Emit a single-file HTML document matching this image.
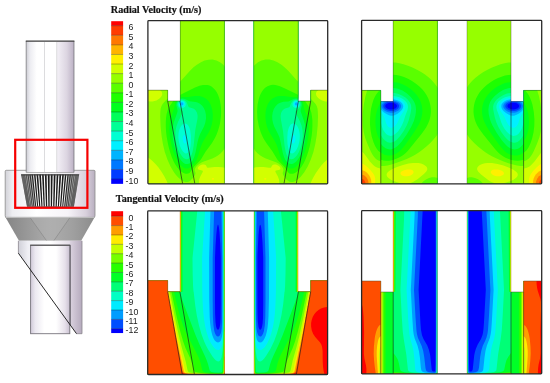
<!DOCTYPE html>
<html><head><meta charset="utf-8"><title>Velocity contours</title>
<style>
html,body{margin:0;padding:0;background:#fff;overflow:hidden}
svg{display:block}
.ttl{font-family:"Liberation Serif",serif;font-weight:bold;font-size:10.2px;fill:#111;stroke:#111;stroke-width:0.2px}
.lab{font-family:"Liberation Sans",sans-serif;font-size:8.8px;fill:#222}
</style></head><body>
<svg width="550" height="383" viewBox="0 0 550 383">
<defs>
<clipPath id="c1L"><path d="M148,90.2 167.7,90.2 167.7,101 180.3,101 180.3,20.6 224.4,20.6 224.4,183.6 148,183.6Z"/></clipPath>
<clipPath id="c1R"><path d="M327.7,90.2 310.7,90.2 310.7,101 298.2,101 298.2,20.6 253.8,20.6 253.8,183.6 327.7,183.6Z"/></clipPath>
<clipPath id="c2L"><path d="M361.6,90.4 380.8,90.4 380.8,101.6 393.2,101.6 393.2,20.3 437.4,20.3 437.4,183.6 361.6,183.6Z"/></clipPath>
<clipPath id="c2R"><path d="M541.7,90.4 523.6,90.4 523.6,101.6 511,101.6 511,20.3 467,20.3 467,183.6 541.7,183.6Z"/></clipPath>
<clipPath id="c3L"><path d="M147.7,280.6 167.7,280.6 167.7,291.7 180.1,291.7 180.1,210.9 224.4,210.9 224.4,374.2 147.7,374.2Z"/></clipPath>
<clipPath id="c3R"><path d="M327.6,280.6 310.7,280.6 310.7,291.7 298,291.7 298,210.9 254,210.9 254,374.2 327.6,374.2Z"/></clipPath>
<clipPath id="c4L"><path d="M361.6,281 380.8,281 380.8,292 393.2,292 393.2,210.6 437.2,210.6 437.2,373.8 361.6,373.8Z"/></clipPath>
<clipPath id="c4R"><path d="M541.7,281 523.6,281 523.6,292 511,292 511,210.6 467,210.6 467,373.8 541.7,373.8Z"/></clipPath>
</defs>
<rect width="550" height="383" fill="#fff"/>
<defs>
<linearGradient id="gTube" x1="0" x2="1" y1="0" y2="0">
<stop offset="0" stop-color="#cdcdd4"/><stop offset="0.08" stop-color="#ececf1"/><stop offset="0.22" stop-color="#ffffff"/>
<stop offset="0.635" stop-color="#ffffff"/><stop offset="0.645" stop-color="#f3f0f6"/><stop offset="0.85" stop-color="#dcd5e1"/><stop offset="0.97" stop-color="#c2b8ca"/><stop offset="1" stop-color="#b2a8ba"/>
</linearGradient>
<linearGradient id="gHouse" x1="0" x2="1" y1="0" y2="0">
<stop offset="0" stop-color="#d2d2d8"/><stop offset="0.08" stop-color="#eeeef2"/><stop offset="0.35" stop-color="#ffffff"/>
<stop offset="0.70" stop-color="#f6f3f8"/><stop offset="0.90" stop-color="#d8d0dc"/><stop offset="1" stop-color="#b9afc0"/>
</linearGradient>
<linearGradient id="gCone" x1="0" x2="1" y1="0" y2="0">
<stop offset="0" stop-color="#858585"/><stop offset="0.3" stop-color="#9d9d9d"/><stop offset="0.5" stop-color="#adadad"/><stop offset="0.75" stop-color="#a0a0a0"/><stop offset="1" stop-color="#8c8c8c"/>
</linearGradient>
<linearGradient id="gBox" x1="0" x2="1" y1="0" y2="0">
<stop offset="0" stop-color="#d0d0d8"/><stop offset="0.15" stop-color="#efeff4"/><stop offset="0.5" stop-color="#ffffff"/>
<stop offset="0.80" stop-color="#e4dee8"/><stop offset="0.82" stop-color="#d9d1de"/><stop offset="1" stop-color="#b5aabd"/>
</linearGradient>
<linearGradient id="gIn" x1="0" x2="1" y1="0" y2="0">
<stop offset="0" stop-color="#cfc9d8"/><stop offset="0.12" stop-color="#ece9f1"/><stop offset="0.35" stop-color="#ffffff"/>
<stop offset="0.65" stop-color="#ffffff"/><stop offset="0.88" stop-color="#e6e0ea"/><stop offset="1" stop-color="#c8bfd0"/>
</linearGradient>
<linearGradient id="gVane" x1="0" x2="1" y1="0" y2="0"><stop offset="0" stop-color="#5c5c5c"/><stop offset="0.25" stop-color="#1c1c1c"/><stop offset="0.75" stop-color="#1c1c1c"/><stop offset="1" stop-color="#5c5c5c"/></linearGradient>
<clipPath id="cVane"><path d="M21,174.3 L79.2,174.3 L73.9,206.8 L27,206.8Z"/></clipPath>
</defs>
<path d="M5.2,171.3 Q5.2,170.3 6.2,170.3 L94,170.3 Q95,170.3 95,171.3 L95,215.6 L94.5,217.4 L5.6,217.4 L5.2,215.6Z" fill="url(#gHouse)" stroke="#8a8a8a" stroke-width="0.8"/>
<g clip-path="url(#cVane)"><rect x="20" y="174" width="60" height="33" fill="url(#gVane)"/>
<path d="M21.0,174.6 L26.6,206.6" stroke="#8c8c8c" stroke-width="0.10"/>
<path d="M21.3,174.6 L26.9,206.6" stroke="#8c8c8c" stroke-width="0.21"/>
<path d="M21.9,174.6 L27.4,206.6" stroke="#8c8c8c" stroke-width="0.32"/>
<path d="M22.8,174.6 L28.1,206.6" stroke="#8c8c8c" stroke-width="0.43"/>
<path d="M24.0,174.6 L29.0,206.6" stroke="#8c8c8c" stroke-width="0.53"/>
<path d="M25.4,174.6 L30.2,206.6" stroke="#c4c4c4" stroke-width="0.62"/>
<path d="M27.1,174.6 L31.5,206.6" stroke="#c4c4c4" stroke-width="0.71"/>
<path d="M29.0,174.6 L33.1,206.6" stroke="#c4c4c4" stroke-width="0.79"/>
<path d="M31.2,174.6 L34.8,206.6" stroke="#c4c4c4" stroke-width="0.87"/>
<path d="M33.5,174.6 L36.7,206.6" stroke="#ffffff" stroke-width="0.94"/>
<path d="M36.0,174.6 L38.7,206.6" stroke="#ffffff" stroke-width="0.99"/>
<path d="M38.7,174.6 L40.9,206.6" stroke="#ffffff" stroke-width="1.04"/>
<path d="M41.5,174.6 L43.1,206.6" stroke="#ffffff" stroke-width="1.08"/>
<path d="M44.3,174.6 L45.4,206.6" stroke="#ffffff" stroke-width="1.11"/>
<path d="M47.2,174.6 L47.8,206.6" stroke="#ffffff" stroke-width="1.12"/>
<path d="M50.2,174.6 L50.2,206.6" stroke="#ffffff" stroke-width="1.13"/>
<path d="M53.2,174.6 L52.6,206.6" stroke="#ffffff" stroke-width="1.12"/>
<path d="M56.1,174.6 L55.0,206.6" stroke="#ffffff" stroke-width="1.11"/>
<path d="M58.9,174.6 L57.3,206.6" stroke="#ffffff" stroke-width="1.08"/>
<path d="M61.7,174.6 L59.5,206.6" stroke="#ffffff" stroke-width="1.04"/>
<path d="M64.4,174.6 L61.7,206.6" stroke="#ffffff" stroke-width="0.99"/>
<path d="M66.9,174.6 L63.7,206.6" stroke="#ffffff" stroke-width="0.94"/>
<path d="M69.2,174.6 L65.6,206.6" stroke="#c4c4c4" stroke-width="0.87"/>
<path d="M71.4,174.6 L67.3,206.6" stroke="#c4c4c4" stroke-width="0.79"/>
<path d="M73.3,174.6 L68.9,206.6" stroke="#c4c4c4" stroke-width="0.71"/>
<path d="M75.0,174.6 L70.2,206.6" stroke="#c4c4c4" stroke-width="0.62"/>
<path d="M76.4,174.6 L71.4,206.6" stroke="#8c8c8c" stroke-width="0.53"/>
<path d="M77.6,174.6 L72.3,206.6" stroke="#8c8c8c" stroke-width="0.43"/>
<path d="M78.5,174.6 L73.0,206.6" stroke="#8c8c8c" stroke-width="0.32"/>
<path d="M79.1,174.6 L73.5,206.6" stroke="#8c8c8c" stroke-width="0.21"/>
<path d="M79.4,174.6 L73.8,206.6" stroke="#8c8c8c" stroke-width="0.10"/>
<rect x="20" y="174.2" width="60" height="1.4" fill="#444" fill-opacity="0.8"/>
</g>
<rect x="26.2" y="41.1" width="47.8" height="131.3" fill="url(#gTube)"/>
<path d="M44.5,42 V172 M56.7,42 V172" stroke="#c4c4c8" stroke-width="0.6" fill="none"/>
<path d="M26.2,172.4 V41.1 M74,41.1 V172.4" stroke="#7c7c80" stroke-width="0.8" fill="none"/>
<path d="M25.8,41.1 H74.4" stroke="#3c3c3c" stroke-width="1.1" fill="none"/>
<path d="M26.2,172.6 H74" stroke="#8a8a8a" stroke-width="0.7" fill="none"/>
<path d="M5.6,217.4 L94.5,217.4 L81.2,240.8 L19,240.8Z" fill="url(#gCone)"/>
<path d="M30,217.4 L46.6,240.8 L53.8,240.8 L70,217.4Z" fill="#b0b0b0" fill-opacity="0.55"/>
<path d="M30,217.4 L46.6,240.8 M70,217.4 L53.8,240.8" stroke="#7d7d7d" stroke-width="0.5" fill="none"/>
<path d="M5.6,217.4 H94.5" stroke="#c9c9c9" stroke-width="0.8"/>
<path d="M18.4,240.8 L82,240.8 L82,333.7 L76.5,333.7 L18.4,253.2Z" fill="url(#gBox)"/>
<rect x="30.6" y="245.2" width="39.2" height="88.5" fill="url(#gIn)" stroke="#77747c" stroke-width="0.9"/>
<path d="M30.2,245.2 H70.2" stroke="#4a4a4a" stroke-width="1"/>
<path d="M70.3,245.2 V325" stroke="#55525a" stroke-width="0.8"/>
<path d="M18.4,240.8 V253.2 M82,240.8 V333.7 H76.5" stroke="#8a868e" stroke-width="0.8" fill="none"/>
<path d="M18.4,253.2 L76.5,333.7" stroke="#1c1c1c" stroke-width="0.95"/>
<rect x="15.2" y="139.8" width="72.2" height="68" fill="none" stroke="#f60000" stroke-width="2.2"/>
<text x="110.8" y="12.6" class="ttl">Radial Velocity (m/s)</text>
<text x="115.8" y="202.2" class="ttl">Tangential Velocity (m/s)</text>
<rect x="111.2" y="21.2" width="11.9" height="4.55" fill="#ff0000"/>
<rect x="111.2" y="25.7" width="11.9" height="9.635" fill="#ff3c00"/>
<rect x="111.2" y="35.285" width="11.9" height="9.635" fill="#ff7800"/>
<rect x="111.2" y="44.87" width="11.9" height="9.635" fill="#ffb400"/>
<rect x="111.2" y="54.455" width="11.9" height="9.635" fill="#fff000"/>
<rect x="111.2" y="64.04" width="11.9" height="9.635" fill="#d2ff00"/>
<rect x="111.2" y="73.625" width="11.9" height="9.635" fill="#96ff00"/>
<rect x="111.2" y="83.21" width="11.9" height="9.635" fill="#5aff00"/>
<rect x="111.2" y="92.795" width="11.9" height="9.635" fill="#1eff00"/>
<rect x="111.2" y="102.38" width="11.9" height="9.635" fill="#00ff1e"/>
<rect x="111.2" y="111.965" width="11.9" height="9.635" fill="#00ff5a"/>
<rect x="111.2" y="121.55" width="11.9" height="9.635" fill="#00ff96"/>
<rect x="111.2" y="131.135" width="11.9" height="9.635" fill="#00ffd2"/>
<rect x="111.2" y="140.72" width="11.9" height="9.635" fill="#00f0ff"/>
<rect x="111.2" y="150.305" width="11.9" height="9.635" fill="#00b4ff"/>
<rect x="111.2" y="159.89" width="11.9" height="9.635" fill="#0078ff"/>
<rect x="111.2" y="169.475" width="11.9" height="9.635" fill="#003cff"/>
<rect x="111.2" y="179.06" width="11.9" height="4.79" fill="#0000ff"/>
<path d="M111.2,25.7 H123.1" stroke="#000" stroke-opacity="0.5" stroke-width="0.6"/>
<path d="M111.2,35.285 H123.1" stroke="#000" stroke-opacity="0.5" stroke-width="0.6"/>
<path d="M111.2,44.87 H123.1" stroke="#000" stroke-opacity="0.5" stroke-width="0.6"/>
<path d="M111.2,54.455 H123.1" stroke="#000" stroke-opacity="0.5" stroke-width="0.6"/>
<path d="M111.2,64.04 H123.1" stroke="#000" stroke-opacity="0.5" stroke-width="0.6"/>
<path d="M111.2,73.625 H123.1" stroke="#000" stroke-opacity="0.5" stroke-width="0.6"/>
<path d="M111.2,83.21 H123.1" stroke="#000" stroke-opacity="0.5" stroke-width="0.6"/>
<path d="M111.2,92.795 H123.1" stroke="#000" stroke-opacity="0.5" stroke-width="0.6"/>
<path d="M111.2,102.38 H123.1" stroke="#000" stroke-opacity="0.5" stroke-width="0.6"/>
<path d="M111.2,111.965 H123.1" stroke="#000" stroke-opacity="0.5" stroke-width="0.6"/>
<path d="M111.2,121.55 H123.1" stroke="#000" stroke-opacity="0.5" stroke-width="0.6"/>
<path d="M111.2,131.135 H123.1" stroke="#000" stroke-opacity="0.5" stroke-width="0.6"/>
<path d="M111.2,140.72 H123.1" stroke="#000" stroke-opacity="0.5" stroke-width="0.6"/>
<path d="M111.2,150.305 H123.1" stroke="#000" stroke-opacity="0.5" stroke-width="0.6"/>
<path d="M111.2,159.89 H123.1" stroke="#000" stroke-opacity="0.5" stroke-width="0.6"/>
<path d="M111.2,169.475 H123.1" stroke="#000" stroke-opacity="0.5" stroke-width="0.6"/>
<path d="M111.2,179.06 H123.1" stroke="#000" stroke-opacity="0.5" stroke-width="0.6"/>
<text x="128.6" y="30.2" class="lab">6</text>
<text x="128.6" y="39.785" class="lab">5</text>
<text x="128.6" y="49.37" class="lab">4</text>
<text x="128.6" y="58.955" class="lab">3</text>
<text x="128.6" y="68.54" class="lab">2</text>
<text x="128.6" y="78.125" class="lab">1</text>
<text x="128.6" y="87.71" class="lab">0</text>
<text x="125.6" y="97.295" class="lab">-1</text>
<text x="125.6" y="106.88" class="lab">-2</text>
<text x="125.6" y="116.465" class="lab">-3</text>
<text x="125.6" y="126.05" class="lab">-4</text>
<text x="125.6" y="135.635" class="lab">-5</text>
<text x="125.6" y="145.22" class="lab">-6</text>
<text x="125.6" y="154.805" class="lab">-7</text>
<text x="125.6" y="164.39" class="lab">-8</text>
<text x="125.6" y="173.975" class="lab">-9</text>
<text x="125.6" y="183.56" class="lab">-10</text>
<rect x="111.2" y="211.2" width="11.9" height="5.05" fill="#ff0000"/>
<rect x="111.2" y="216.2" width="11.9" height="9.43" fill="#ff4e00"/>
<rect x="111.2" y="225.58" width="11.9" height="9.43" fill="#ff9d00"/>
<rect x="111.2" y="234.96" width="11.9" height="9.43" fill="#ffeb00"/>
<rect x="111.2" y="244.34" width="11.9" height="9.43" fill="#c4ff00"/>
<rect x="111.2" y="253.72" width="11.9" height="9.43" fill="#76ff00"/>
<rect x="111.2" y="263.1" width="11.9" height="9.43" fill="#27ff00"/>
<rect x="111.2" y="272.48" width="11.9" height="9.43" fill="#00ff27"/>
<rect x="111.2" y="281.86" width="11.9" height="9.43" fill="#00ff76"/>
<rect x="111.2" y="291.24" width="11.9" height="9.43" fill="#00ffc4"/>
<rect x="111.2" y="300.62" width="11.9" height="9.43" fill="#00ebff"/>
<rect x="111.2" y="310" width="11.9" height="9.43" fill="#009dff"/>
<rect x="111.2" y="319.38" width="11.9" height="9.43" fill="#004eff"/>
<rect x="111.2" y="328.76" width="11.9" height="4.29" fill="#0000ff"/>
<path d="M111.2,216.2 H123.1" stroke="#000" stroke-opacity="0.5" stroke-width="0.6"/>
<path d="M111.2,225.58 H123.1" stroke="#000" stroke-opacity="0.5" stroke-width="0.6"/>
<path d="M111.2,234.96 H123.1" stroke="#000" stroke-opacity="0.5" stroke-width="0.6"/>
<path d="M111.2,244.34 H123.1" stroke="#000" stroke-opacity="0.5" stroke-width="0.6"/>
<path d="M111.2,253.72 H123.1" stroke="#000" stroke-opacity="0.5" stroke-width="0.6"/>
<path d="M111.2,263.1 H123.1" stroke="#000" stroke-opacity="0.5" stroke-width="0.6"/>
<path d="M111.2,272.48 H123.1" stroke="#000" stroke-opacity="0.5" stroke-width="0.6"/>
<path d="M111.2,281.86 H123.1" stroke="#000" stroke-opacity="0.5" stroke-width="0.6"/>
<path d="M111.2,291.24 H123.1" stroke="#000" stroke-opacity="0.5" stroke-width="0.6"/>
<path d="M111.2,300.62 H123.1" stroke="#000" stroke-opacity="0.5" stroke-width="0.6"/>
<path d="M111.2,310 H123.1" stroke="#000" stroke-opacity="0.5" stroke-width="0.6"/>
<path d="M111.2,319.38 H123.1" stroke="#000" stroke-opacity="0.5" stroke-width="0.6"/>
<path d="M111.2,328.76 H123.1" stroke="#000" stroke-opacity="0.5" stroke-width="0.6"/>
<text x="128.6" y="220.7" class="lab">0</text>
<text x="125.6" y="230.08" class="lab">-1</text>
<text x="125.6" y="239.46" class="lab">-2</text>
<text x="125.6" y="248.84" class="lab">-3</text>
<text x="125.6" y="258.22" class="lab">-4</text>
<text x="125.6" y="267.6" class="lab">-5</text>
<text x="125.6" y="276.98" class="lab">-6</text>
<text x="125.6" y="286.36" class="lab">-7</text>
<text x="125.6" y="295.74" class="lab">-8</text>
<text x="125.6" y="305.12" class="lab">-9</text>
<text x="125.6" y="314.5" class="lab">-10</text>
<text x="125.6" y="323.88" class="lab">-11</text>
<text x="125.6" y="333.26" class="lab">-12</text>
<g clip-path="url(#c1L)"><rect x="146" y="19" width="80" height="166" fill="#00b4ff"/>
<path fill="#00f0ff" fill-rule="evenodd" d="M226,19l0,166 -80,0 0,-166zM181,102.5l-0.5,0.5 -0.2,0.5 0.1,1 0.3,0.5 0.8,0.4 1,-0.1 0.8,-0.8 0,-1 -0.2,-0.5 -0.5,-0.5 -0.6,-0.2z"/>
<path fill="#00ffd2" fill-rule="evenodd" d="M226,19l0,166 -80,0 0,-166zM180.8,101.5l-0.8,0.5 -0.6,1 -0.2,1 0.2,1 0.6,0.8 1,0.7 1,0.2 1,-0.2 0.8,-0.5 0.6,-1 0.2,-1 -0.2,-1 -0.7,-1 -0.8,-0.5 -0.9,-0.2zM184.3,135l-0.8,0.5 -0.4,1 -0.3,1.5 0,1.5 0.7,2.7 0.5,0.8 0.5,0.5 0.5,0.2 0.5,-0.2 0.6,-1 0.3,-1.5 0,-2 -0.4,-2 -0.5,-1.2 -0.5,-0.6z"/>
<path fill="#00ff96" fill-rule="evenodd" d="M226,19l0,166 -80,0 0,-166zM181.1,100.5l-1.1,0.5 -1.1,1 -0.5,1.5 0.1,1.5 0.7,1.5 1.3,1 1.5,0.5 1.5,-0.2 1.3,-0.8 0.7,-1 0.2,-1 0,-1.5 -0.7,-1.5 -1,-0.9 -1.5,-0.6zM184.4,123.5l-1.4,0.6 -1,0.8 -1.2,1.6 -1,2 -0.8,2.3 -0.4,2.2 -0.2,2.5 0,2.5 0.4,3 0.5,2.5 0.7,2.5 1.1,2.5 1.1,2 1.3,1.6 1.5,1.1 1,0.2 1.4,-0.4 1.1,-1 0.8,-1.5 0.7,-2 0.5,-2.5 0.3,-3 0.1,-7 -0.7,-5.5 -0.7,-2.4 -0.7,-1.6 -0.8,-1.3 -1,-1 -1.5,-0.7z"/>
<path fill="#00ff5a" fill-rule="evenodd" d="M226,19l0,166 -80,0 0,-166zM180,100l-1.3,1 -1,1.5 -0.3,1.5 0.2,1.5 1,2 0.9,1.1 3,2.4 0.2,1 -0.4,1.5 -4.3,8.5 -1.7,5 -0.5,2.5 -0.4,3 0,3 0.2,3.5 0.7,4 0.9,3.5 1.3,3.7 1.5,3.1 1.8,2.7 1.7,1.9 2,1.1 1.5,0.2 1,-0.2 0.9,-0.5 1.5,-1.5 1.3,-2.5 0.9,-3 1,-5.5 1.7,-16 2.1,-11 0.2,-2 -0.1,-2 -0.6,-2.5 -1.4,-2.3 -1,-0.9 -1.3,-0.8 -4.2,-1.3 -0.6,-0.7 -1.6,-4 -1.2,-1.5 -1.1,-0.8 -1.5,-0.5 -1.5,-0.1z"/>
<path fill="#00ff1e" fill-rule="evenodd" d="M226,19l0,166 -80,0 0,-166zM180,99l-1.5,0.9 -1,1.1 -0.6,1 -0.4,1.5 -0.1,2 1,4 0.2,1.5 -0.5,2 -3,8.5 -1.1,4.4 -0.5,5.6 0.3,6 0.7,5 1.3,5 1.7,4.9 2,4.2 2.2,3.4 2.3,2.4 1.5,1 1,0.5 2,0.2 2,-0.6 1.8,-1.5 1.7,-2.3 1.2,-2.7 1.3,-4.5 2,-10.3 1.1,-4.2 1.5,-4 3.9,-7.5 1.2,-3.5 0.8,-4.5 -0.1,-4 -0.8,-3.5 -1.3,-3 -1.8,-2.5 -2.5,-2 -2,-1 -2,-0.6 -6,-0.6 -4,-2 -1.5,-0.5 -2,-0.2z"/>
<path fill="#1eff00" fill-rule="evenodd" d="M226,19l0,166 -80,0 0,-166zM194.9,96l-6.9,1.1 -4.5,-0.1 -2,0.2 -2.5,0.9 -2,1.6 -1.3,1.8 -0.6,1.5 -1,5.5 -3.1,8.6 -0.8,3.4 -0.5,3 -0.3,6.5 0.6,7.5 1.5,8 2.2,7.5 2.8,6.3 1.5,2.6 1.5,2.1 1.8,2 1.7,1.3 1.5,0.9 1.5,0.4 2,-0.1 1,-0.4 1.5,-1 3.5,-3.4 2.3,-3.2 1.6,-4 2.6,-8.7 1.5,-4.1 2,-3.7 4.4,-7 2,-4 1.4,-4.5 0.8,-4.5 0.2,-5.5 -0.6,-5 -1.4,-4.5 -2,-3.5 -1.3,-1.5 -1.5,-1.3 -3,-1.7 -3.5,-0.9 -2,-0.2z"/>
<path fill="#5aff00" fill-rule="evenodd" d="M226,19l0,166 -80,0 0,-166zM203,85l-3.5,0.8 -4.5,1.8 -15,7.3 -3,1.8 -2.7,2.8 -4.8,7 -1.8,3.5 -1.1,4 -0.5,3.5 -0.3,4.5 0,5 0.3,5 0.6,5 1,5.5 1.1,5 1.4,5 1.5,4.5 1.5,3.5 1.8,3.5 2,3.1 2,2.5 2,1.9 2.5,1.6 2,0.6 1.5,0.1 1,-0.2 1,-0.4 1,-0.7 4.2,-6 5.4,-5.5 1.6,-2 4.3,-7.2 6.5,-8.9 2.9,-4.9 1.7,-3.5 1.3,-3.5 1.2,-4 0.9,-3.5 1,-7.5 0.1,-4 -0.1,-4 -0.4,-3.5 -0.6,-3.5 -0.8,-3 -1.2,-3.2 -1.4,-2.8 -1.4,-2 -1.7,-1.8 -2,-1.6 -2,-1 -2,-0.5 -2,-0.2z"/>
<path fill="#96ff00" fill-rule="evenodd" d="M226,19l0,48.8 -3,-3.3 -3,-2.3 -3.5,-1.7 -2,-0.6 -2,-0.3 -4,0.1 -4,0.9 -4,1.8 -4,2.5 -3,2.4 -3.5,3.4 -8.3,9.3 -5.2,5.6 -2,2.6 -2.9,5.3 -1.6,2.5 -1.7,2 -4,4 -1.7,2 -1.1,2 -0.8,2.5 -0.4,3.5 -0.1,4.5 0.4,10 1,9.5 1.3,8 1.9,8 2.8,8 3.2,7 3.3,5.5 1.9,2.5 2,2.3 3.5,3 1.5,0.9 1.5,0.6 1.5,0.3 1.5,-0.1 1,-0.3 1.5,-0.8 2.5,-2.3 1.5,-1.9 1,-1.7 0.4,-1 0.1,-1 -0.7,-2.5 0.1,-1.5 0.7,-1.5 1.4,-1.7 2.5,-2 2.5,-1.5 2.5,-1 7.9,-2.8 3,-1.5 2.5,-1.5 2.6,-2 1.9,-2 1.8,-2.5 1.8,-3.3 0,39.3 -80,0 0,-166z"/>
<path fill="#d2ff00" fill-rule="evenodd" d="M149,87.5l3,-0.1 3,0.4 3,1 2,1.2 1.5,1.6 0.5,0.9 0.2,1 -0.1,1.5 -1.1,2 -1.5,1.5 -1.5,1.1 -1.5,0.8 -2,0.6 -2,0.4 -2,0.1 -4.5,-0.4 0,-13.2zM149.5,158.4l3,2.5 3,3 3,3.6 3,4.3 2.9,4.7 2.3,4.5 1.6,4 -22.3,0 0,-28.8zM202.5,164.5l1.5,-0.1 1.5,0.5 0.6,0.6 0.9,1.9 1,0.4 6.5,-0.8 3.5,-0.1 4,0.3 4,0.9 0,16.9 -26.6,0 -0.5,-2.5 0.3,-3 1.1,-3 2.4,-4.5 0.2,-1 -0.7,-0.5 -2.2,-0.4 -1.5,-0.5 -0.6,-0.6 -0.1,-1 0.5,-1 0.9,-1 1.7,-1z"/>
<path fill="#fff000" fill-rule="evenodd" d="M212.5,178.3l1,-0.1 0.5,0.3 0.1,0.5 -0.6,0.5 -1.2,0 -0.4,-0.5 0.2,-0.5z"/></g>
<g clip-path="url(#c1R)"><rect x="252" y="19" width="78" height="166" fill="#00b4ff"/>
<path fill="#00f0ff" fill-rule="evenodd" d="M330,19l0,166 -78,0 0,-166zM295.7,102.5l-0.6,0.5 -0.2,0.5 0,1 0.4,0.5 0.7,0.4 1,-0.1 0.5,-0.3 0.3,-0.5 0.1,-1 -0.2,-0.5 -0.7,-0.6 -0.5,-0.1z"/>
<path fill="#00ffd2" fill-rule="evenodd" d="M330,19l0,166 -78,0 0,-166zM295.3,101.5l-0.8,0.5 -0.7,1 -0.2,1 0.2,1 0.6,1 0.6,0.4 1,0.3 1,-0.1 1,-0.6 0.8,-1 0.2,-1 -0.2,-1 -0.6,-1 -0.7,-0.5 -1,-0.2zM293.8,135l-0.8,0.4 -0.5,0.8 -0.5,1.5 -0.2,1.3 0.2,3.1 0.5,1.1 0.5,0.4 0.7,-0.1 0.8,-0.9 0.5,-1.3 0.4,-1.8 -0.1,-2 -0.3,-1.4 -0.5,-0.8z"/>
<path fill="#00ff96" fill-rule="evenodd" d="M330,19l0,166 -78,0 0,-166zM295.6,100.5l-1.3,0.5 -1.1,1 -0.5,1 -0.3,1.5 0.3,1.5 0.8,1.1 1,0.6 1.5,0.3 1.5,-0.4 1,-0.6 1.1,-1.5 0.3,-1.5 -0.3,-1.5 -1.1,-1.3 -1.5,-0.7zM292.7,123.5l-1.2,0.5 -1,0.8 -0.8,1.2 -0.8,1.5 -0.6,2 -0.6,2.5 -0.4,5.5 0.2,6.5 0.9,5 0.6,1.7 1,1.6 1,0.9 1,0.2 1,-0.1 1.5,-1 1.5,-1.8 1.1,-2 1.1,-2.5 0.8,-3 0.6,-3 0.2,-3 0,-2.5 -0.4,-2.5 -0.6,-2.5 -0.8,-2 -1,-1.7 -1.5,-1.5 -1.5,-0.8z"/>
<path fill="#00ff5a" fill-rule="evenodd" d="M330,19l0,166 -78,0 0,-166zM294.2,100l-1.2,0.7 -1.2,1.3 -0.9,1.5 -0.9,2.6 -0.5,0.9 -1,0.5 -3.5,1 -1.5,0.9 -1,1 -0.7,1.1 -0.7,1.5 -0.5,3 0.3,3.5 2.1,11.5 1.6,15 1,5.5 0.9,3 1.5,2.7 1.5,1.4 1,0.5 1,0.1 1,-0.1 1,-0.4 2,-1.6 1.7,-2.1 1.7,-3 1.4,-3.5 1.2,-4 0.9,-4.5 0.4,-4 -0.2,-5.5 -1.1,-5 -1.5,-3.9 -3.9,-7.6 -0.6,-2 0.2,-1 2.8,-2.2 1.5,-1.9 0.7,-1.9 -0.1,-2 -0.4,-1 -0.7,-1 -1.5,-1.1 -2,-0.3z"/>
<path fill="#00ff1e" fill-rule="evenodd" d="M330,19l0,166 -78,0 0,-166zM293.5,99l-3.5,1.8 -1.5,0.6 -5,0.4 -2.5,0.6 -2,0.9 -1.5,1 -2.1,2.2 -1.6,2.5 -1.1,3.5 -0.5,3.5 0.1,3.5 0.7,3.6 1.2,3.4 3.8,7.4 1.5,3.7 1.1,4.4 2.1,10.5 1.3,4.6 1.4,2.9 1.6,2.1 2,1.5 2,0.5 1,-0.1 1.5,-0.5 2.5,-1.8 2.5,-3.1 2.1,-3.6 1.9,-4.7 1.6,-5.3 1.1,-5.5 0.5,-5.5 -0.1,-5 -0.7,-4.5 -1.1,-4 -3.1,-9 0,-1.5 1.1,-4.5 0,-1.5 -0.3,-1.5 -1.2,-2 -1.8,-1.4 -1,-0.4 -1.5,-0.2z"/>
<path fill="#1eff00" fill-rule="evenodd" d="M330,19l0,166 -78,0 0,-166zM279.5,96l-2,0.3 -2,0.6 -3,1.5 -2.5,2.4 -2,3 -1.5,3.7 -0.9,4.5 -0.2,5 0.5,5 1,4.5 1.8,4.5 2,3.5 3.8,6 2,3.9 1.1,3.1 2.7,9 0.9,2.5 1,2 2.3,3 3.5,3.4 2,1 1,0.2 1.5,0 1.6,-0.6 1.9,-1.2 1.8,-1.8 1.6,-2 1.6,-2.4 1.5,-2.9 2.7,-6.7 2,-7.5 1.3,-8 0.3,-7.5 -0.2,-3.5 -0.4,-3 -1.4,-5.5 -2.7,-7.5 -0.8,-4.5 -0.4,-1.5 -1,-2 -1.4,-1.5 -2,-1.3 -2,-0.5 -6,-0.1 -6.5,-1z"/>
<path fill="#5aff00" fill-rule="evenodd" d="M330,19l0,166 -78,0 0,-166zM271.1,85l-1.6,0.4 -2,0.8 -2,1.3 -1.6,1.5 -1.6,2 -1.3,2.2 -1.1,2.3 -1,3 -1.3,6 -0.5,7 0.4,7.5 1.3,7 2,6.5 1.5,3.5 1.5,3 2.7,4.3 6,8.2 4.8,8 1.8,2 4.9,5 1.6,2 1.9,3.1 1,1.1 1,0.7 1,0.3 1,0.1 1.5,-0.1 2,-0.8 2.5,-1.7 2,-1.9 2,-2.6 2,-3.2 1.7,-3.5 1.6,-4 1.5,-4.5 1.4,-5 1.1,-5.5 0.9,-5.5 0.5,-5 0.2,-5 0,-5 -0.5,-4.5 -0.6,-3.5 -1.2,-3.5 -2,-3.5 -4.2,-6 -1.4,-1.6 -2,-1.7 -3.5,-1.9 -12.5,-6.1 -4.5,-1.9 -4.5,-1.3 -2.5,-0.2z"/>
<path fill="#96ff00" fill-rule="evenodd" d="M330,19l0,166 -78,0 0,-39.7 1.7,3.2 2.1,3 1.9,2 2.6,2 2.5,1.5 3,1.5 10.2,3.7 2.5,1.4 2.5,2 1.6,1.9 0.7,1.5 0.1,1.5 -0.7,2.5 0.1,1 0.4,1 2.3,3.4 1.5,1.5 1.5,1.2 1,0.6 1.5,0.4 1.5,0 1.5,-0.4 3,-1.6 3.5,-3.1 3.6,-4.5 3.6,-6 3.1,-7 2.6,-7.5 1.9,-8 1.4,-8.5 1,-10 0.3,-9 -0.2,-5 -0.3,-3 -0.8,-2.5 -1.1,-2 -1.7,-2 -4,-4 -1.7,-2 -1.6,-2.5 -2.7,-5 -2.3,-3 -5.1,-5.5 -8.5,-9.5 -3.5,-3.3 -3,-2.4 -4,-2.5 -4,-1.8 -4,-0.9 -4,0 -2,0.4 -2,0.6 -3.5,1.7 -3,2.4 -3,3.4 0,-49.1z"/>
<path fill="#d2ff00" fill-rule="evenodd" d="M325.5,87.5l4.5,0 0,13.9 -2.5,0.1 -2,-0.1 -2,-0.4 -2,-0.7 -2,-1.2 -1.3,-1.1 -1.3,-1.5 -0.8,-1.5 -0.1,-1.5 0.2,-1 0.5,-1 1.3,-1.3 1.5,-1 2,-0.9 2,-0.5zM330,157.5l0,27.5 -20.1,0 1.4,-3.5 2,-4 2.3,-4 2.9,-4.3 2.8,-3.7 2.7,-3 2.5,-2.3zM274,164.4l2,0.2 2,0.8 1.5,1.1 0.9,1.5 -0.1,1 -0.8,0.7 -1,0.4 -2.5,0.4 -0.7,0.5 0.2,1 2.4,4.5 1.1,3 0.3,3 -0.5,2.5 -26.8,0 0,-16.8 4,-1 4,-0.3 3.5,0.1 5.5,0.8 1.5,0 0.6,-0.3 0.7,-1.5 0.8,-1z"/>
<path fill="#fff000" fill-rule="evenodd" d="M265.5,178.2l0.6,0.3 0.2,0.5 -0.4,0.5 -1.3,0 -0.5,-0.5 0.1,-0.5z"/></g>
<g clip-path="url(#c2L)"><rect x="360" y="19" width="79" height="166" fill="#0000ff"/>
<path fill="#003cff" fill-rule="evenodd" d="M439,19l0,166 -79,0 0,-166zM388.4,103l-2,1 -0.6,0.5 -0.5,1 -0.1,0.5 0.3,1 0.9,1 1.1,0.7 2.5,0.7 1.5,0.1 1.5,-0.2 2.2,-0.8 0.8,-0.6 0.7,-0.9 0.3,-1 -0.3,-1 -0.7,-0.8 -1,-0.7 -1.5,-0.6 -1.5,-0.2 -2,0z"/>
<path fill="#0078ff" fill-rule="evenodd" d="M439,19l0,166 -79,0 0,-166zM390,101.5l-2,0.3 -1.9,0.7 -1.5,1 -0.9,1 -0.4,1 0.1,1.5 0.6,1 1,1 1.5,1 1.5,0.5 2,0.5 2,0 2,-0.3 1.9,-0.7 1.6,-1 0.9,-1 0.6,-1.1 0.1,-1.4 -0.5,-1 -1.1,-1.2 -1.5,-0.9 -2,-0.6 -2,-0.3z"/>
<path fill="#00b4ff" fill-rule="evenodd" d="M439,19l0,166 -79,0 0,-166zM388.9,100.5l-2.4,0.6 -2,0.8 -1.5,1.1 -1.1,1.5 -0.4,1.5 0.3,1.5 0.9,1.5 1.3,1.2 2,1.3 2,0.8 2.5,0.4 2,0 2,-0.3 2,-0.8 2,-1.2 1.5,-1.4 0.9,-1.5 0.2,-1 0,-1 -0.7,-1.5 -1.4,-1.5 -2,-1.1 -2.5,-0.7 -3,-0.4z"/>
<path fill="#00f0ff" fill-rule="evenodd" d="M439,19l0,166 -79,0 0,-166zM387.9,99.5l-1.9,0.5 -2,0.8 -1.9,1.2 -1.1,1.1 0,6.4 1.4,1.5 1.6,1.4 3,1.9 2,1 2,0.5 1.5,0 2,-0.5 3,-1.6 2.5,-1.9 1.7,-1.8 0.8,-1.2 0.5,-1.2 0.2,-1.1 -0.1,-1 -0.9,-2 -1.7,-1.7 -2.5,-1.4 -3.5,-1 -3.5,-0.3z"/>
<path fill="#00ffd2" fill-rule="evenodd" d="M439,19l0,166 -79,0 0,-166zM388.7,98l-2.2,0.5 -2,0.6 -2,1 -1.5,1 -0.2,5.4 0.2,5.9 1.7,2.1 1.2,2 0.8,2 1.3,4.5 1.3,2.5 0.7,0.9 1,0.8 1,0.5 1.5,0.1 1.3,-0.3 1.2,-0.7 1.4,-1.3 1.2,-1.5 1.3,-2.5 2.2,-5 4.4,-6.6 0.7,-1.9 0.2,-2 -0.6,-2 -1,-1.5 -1.6,-1.5 -2.2,-1.4 -2.5,-1 -3,-0.6 -3,-0.2z"/>
<path fill="#00ff96" fill-rule="evenodd" d="M439,19l0,166 -79,0 0,-166zM390.5,96l-2.5,0.4 -2.5,0.7 -2.5,1 -2,1.1 -0.2,7.3 0.2,16.5 1,3.8 1.5,3.6 2,2.9 1,1 1.5,1 1,0.3 1.5,0.3 1,-0.1 1.5,-0.4 2.5,-1.6 2.5,-2.4 2.5,-3.6 1.5,-2.8 1.5,-3.5 1.9,-6 2.1,-5.5 0.5,-3 -0.4,-2.5 -1,-2 -1.8,-2 -2.3,-1.7 -3,-1.5 -3,-0.9 -3,-0.4z"/>
<path fill="#00ff5a" fill-rule="evenodd" d="M439,19l0,166 -79,0 0,-166zM391.1,93l-2.6,0.5 -2.5,0.8 -2.5,1.1 -2.5,1.5 -0.3,6.1 0.3,32.3 2,3.1 2,2.2 2.5,1.6 2.5,0.5 1.5,-0.1 1.5,-0.5 1.5,-0.7 2,-1.5 3.5,-3.6 3.7,-5.3 3,-5.5 2,-5 2,-8 0.6,-4.5 -0.3,-3 -1.1,-2.5 -1.8,-2.5 -2.6,-2.4 -3.5,-2.2 -4,-1.7 -3.5,-0.7z"/>
<path fill="#00ff1e" fill-rule="evenodd" d="M439,19l0,166 -79,0 0,-166zM389.1,88.5l-2.1,0.7 -2,0.9 -4,2.8 -0.4,11.6 0,27 0.4,12.5 2,2.3 2.5,1.9 2,0.9 2.5,0.3 1.5,-0.2 2,-0.6 2,-1.1 2,-1.5 2,-2 2.2,-2.5 5,-7 4.4,-7.5 2.8,-6 1.5,-5.5 0.4,-3 0.2,-3 -0.2,-2.5 -0.4,-2 -0.7,-2 -1,-2 -2.7,-3.7 -4,-3.7 -4.5,-3 -2,-0.9 -2.5,-0.9 -2.5,-0.6 -2,-0.2 -2,0.1z"/>
<path fill="#1eff00" fill-rule="evenodd" d="M439,19l0,166 -79,0 0,-166zM389.2,82.5l-2.2,0.6 -2,0.8 -2,1 -2,1.4 -0.5,17.1 -1,1.2 -1,1.7 -1.6,4.2 -1.1,5 -0.4,6 0.3,5.5 1,5.5 0.8,2.6 1,2.3 1,1.7 1,1.3 0.5,12 1.5,1.2 2,1.1 2,0.6 2.5,0.3 2,-0.2 2.5,-0.6 2,-0.9 2,-1.1 2,-1.5 1.9,-1.8 4.1,-5 9.1,-13 4.2,-7 1.6,-3.5 1.1,-3.5 0.7,-3.5 0.2,-3 -0.2,-3 -0.4,-2.5 -0.9,-3 -1,-2.5 -1.5,-2.5 -1.7,-2.5 -2.2,-2.5 -2.5,-2.3 -2.5,-2 -3,-2 -3,-1.5 -3,-1.2 -3,-0.9 -3,-0.4 -2.5,-0.1z"/>
<path fill="#5aff00" fill-rule="evenodd" d="M439,19l0,166 -79,0 0,-166zM389.8,75l-2.3,0.4 -2.5,0.8 -4,1.9 -0.5,11.7 -2,1.6 -2,2.5 -1.5,2.6 -1.6,3.5 -1.2,4 -1.1,4.5 -0.6,4.5 -0.4,5 -0.1,6.5 0.6,6 1.1,6 1.8,5.7 1.6,3.8 1.8,3 1.6,2 2,1.6 0.5,7.1 2.5,0.8 2.5,0.3 3,-0.1 3,-0.5 3,-0.9 3,-1.2 3,-1.6 2.3,-1.5 2.4,-2 2,-2 14.2,-17.5 4.2,-6 2,-4 1.4,-3.5 1,-4 0.4,-4 -0.1,-3.5 -0.5,-3.5 -0.9,-3.5 -1.1,-3 -1.8,-3.4 -2,-3 -2.5,-3 -2.6,-2.6 -3.4,-2.8 -4,-2.7 -4,-2.2 -4,-1.7 -4,-1.3 -3.5,-0.7 -3.5,-0.3z"/>
<path fill="#96ff00" fill-rule="evenodd" d="M439,19l0,70.8 -2.1,-3.3 -2.7,-3.5 -2.7,-2.9 -3,-2.8 -3.5,-2.7 -3.5,-2.3 -4.5,-2.5 -4.5,-2.2 -4.5,-1.9 -4.5,-1.5 -4,-1 -4,-0.7 -3.5,-0.1 -3.5,0.2 -3.5,0.8 -3,1 -1,0.4 -0.5,7 -2,1 -2,1.5 -1.7,1.7 -1.6,2 -3,5 -2.8,6.5 -2,7 -1.5,7.5 -1,8 -0.3,7.5 0.3,6.5 0.8,6 1.4,5.5 2.2,6 3.5,8 1.6,3 1.4,2 1.7,2 1.5,1.2 1.5,0.9 2,0.7 0.5,4.8 3,-0.1 3.5,-0.5 4,-1 4.5,-1.4 5.5,-2 5.2,-2.1 5.3,-2.5 3.6,-2 3.1,-2 3.4,-2.5 4.3,-3.5 3.6,-3.3 2.6,-2.7 2.6,-3 1.9,-2.5 1.9,-3 0,46.8 -2,-1 -2.5,-0.5 -2.5,0 -3,0.7 -3,1.4 -2.3,1.6 -1.9,2 -1.2,2 -60.6,0 0,-166z"/>
<path fill="#d2ff00" fill-rule="evenodd" d="M362,151.7l2,1.9 5.9,7.9 3.3,3.5 1.8,1.5 2,1.1 1.5,0.5 2,0.3 0.3,6.6 -0.2,10 -20.6,0 0,-34.5zM413,163l3,-0.1 2.5,0.2 2.5,0.5 2,0.7 2,1.1 1.3,1.1 0.7,1 0.3,1.5 -0.2,1 -0.8,1.5 -2.4,2.5 -6.4,5.2 -4.5,2.8 -3,1.2 -3,0.5 -3.5,-0.1 -4,-0.7 -4.5,-1.4 -4,-1.8 -2.5,-1.7 -1,-1 -0.6,-1 -0.3,-1 0.1,-1 0.8,-1.5 1.6,-1.5 3.4,-2 4.5,-2 6,-2.1 5.5,-1.4z"/>
<path fill="#fff000" fill-rule="evenodd" d="M361.5,163.4l1.5,0.4 2.5,1.6 4.4,4.1 3.3,4 1.4,2.5 0.6,2.5 0,3 -0.5,3.5 -14.7,0 0,-21.6zM407,169.5l3.2,0 1.3,0.3 1,0.5 0.7,0.7 0.4,1 -0.5,1.5 -1,1 -1.6,0.9 -1.7,0.6 -1.8,0.3 -2,-0.1 -1.5,-0.2 -1.5,-0.6 -1.1,-0.9 -0.3,-0.5 -0.1,-1 0.5,-1 0.5,-0.5 2.5,-1.3z"/>
<path fill="#ffb400" fill-rule="evenodd" d="M362.5,170.2l2.5,1 2,1.6 1.9,2.2 1.2,2 0.9,2.5 0.3,2.5 0,3 -11.3,0 0,-14.7z"/>
<path fill="#ff7800" fill-rule="evenodd" d="M362,174.7l1.5,0.4 1.5,0.9 1.5,1.5 1,1.7 0.7,1.8 0.3,2 0,2 -8.5,0 0,-10.1z"/>
<path fill="#ff3c00" fill-rule="evenodd" d="M361.5,178.9l1,0.2 1,0.5 0.8,0.9 1,2 0.2,2.5 -5.5,0 0,-5.9z"/></g>
<g clip-path="url(#c2R)"><rect x="465" y="19" width="79" height="166" fill="#0000ff"/>
<path fill="#003cff" fill-rule="evenodd" d="M544,19l0,166 -79,0 0,-166zM510.7,103l-2.1,1 -0.6,0.6 -0.5,0.9 0,0.9 0.2,0.6 0.8,1 1,0.6 2.5,0.8 1.5,0.1 1.5,-0.2 2.3,-0.8 0.8,-0.5 0.8,-1 0.3,-1 -0.3,-1 -0.9,-1 -0.8,-0.5 -1.2,-0.5 -2,-0.3 -1.5,0z"/>
<path fill="#0078ff" fill-rule="evenodd" d="M544,19l0,166 -79,0 0,-166zM512.1,101.5l-2.1,0.4 -1.8,0.6 -1.6,1 -0.8,1 -0.5,1 0.1,1.5 0.6,1 1,1.1 1.5,0.9 1.5,0.6 2,0.4 2,0 2,-0.3 1.8,-0.7 1.6,-1 1,-1 0.6,-1.1 0.1,-1.4 -0.4,-1 -1.2,-1.3 -1.5,-0.8 -2,-0.7 -2,-0.2z"/>
<path fill="#00b4ff" fill-rule="evenodd" d="M544,19l0,166 -79,0 0,-166zM510.8,100.5l-2.3,0.5 -2.3,1 -1.4,1 -1.1,1.5 -0.4,1.5 0.2,1.5 0.9,1.5 1.6,1.5 2,1.2 2,0.7 2,0.3 2.5,0 2,-0.5 2.5,-1.1 1.7,-1.1 1.4,-1.5 0.7,-1.5 0.1,-1.5 -0.6,-1.5 -1.5,-1.5 -2.3,-1.2 -2.5,-0.7 -2.5,-0.3z"/>
<path fill="#00f0ff" fill-rule="evenodd" d="M544,19l0,166 -79,0 0,-166zM509.4,99.5l-2.9,0.8 -2.2,1.2 -1.7,1.5 -0.8,1 -0.4,1 -0.1,2 0.7,2 1.5,2 2.5,2.1 2.5,1.5 2,0.9 2,0.3 1.5,-0.1 2.5,-0.9 2.5,-1.4 2.5,-1.9 2,-2.2 0,-6.1 -1.9,-1.7 -2.6,-1.3 -3,-0.8 -3.5,-0.3z"/>
<path fill="#00ffd2" fill-rule="evenodd" d="M544,19l0,166 -79,0 0,-166zM509.7,98l-2.7,0.6 -2,0.7 -2,1.1 -1.4,1.1 -1.4,1.5 -0.8,1.5 -0.4,1.5 0.1,1.5 0.9,2.6 4.3,6.4 2.4,5.5 1.5,2.5 1.3,1.5 1.5,1.2 1.5,0.6 1.5,0 1,-0.4 1,-0.6 1.5,-1.9 1,-2.1 1.4,-4.8 0.6,-1.5 1.2,-2 1.8,-2.2 0.2,-5.8 -0.2,-5.3 -3,-1.8 -3.5,-1.2 -3.5,-0.4z"/>
<path fill="#00ff96" fill-rule="evenodd" d="M544,19l0,166 -79,0 0,-166zM510.6,96l-2.6,0.4 -3,0.9 -2.5,1.2 -2.3,1.5 -1.7,1.6 -1.3,1.9 -0.7,2 -0.1,2 0.5,2.5 2.1,5.5 2.1,6.5 1.4,3.3 1.8,3.2 2.7,3.5 2.5,2.3 2.5,1.3 1.5,0.3 1,-0.1 1.3,-0.3 1.2,-0.6 1.5,-1.2 1,-1.1 1,-1.6 1.1,-2 1.5,-4.5 0.4,-2.1 0.2,-15.9 -0.2,-7.2 -3,-1.6 -3,-1.1 -3.5,-0.6z"/>
<path fill="#00ff5a" fill-rule="evenodd" d="M544,19l0,166 -79,0 0,-166zM510.1,93l-3.1,0.6 -3.5,1.3 -3.5,2 -3,2.4 -1.9,2.2 -1.4,2.5 -0.6,2.5 0.1,3 1.5,7.5 1.5,5 2.2,5 3.2,5.5 3.4,4.5 1.9,2 1.6,1.4 2,1.3 1.5,0.6 1.5,0.4 1.5,0 2.5,-0.8 2,-1.4 2,-2.2 2,-3.2 0.3,-28.1 -0.3,-10.1 -3.5,-1.9 -3.5,-1.4 -3,-0.6z"/>
<path fill="#00ff1e" fill-rule="evenodd" d="M544,19l0,166 -79,0 0,-166zM507.4,88.5l-2.4,0.7 -2,0.9 -4,2.3 -4,3.3 -3,3.3 -1.9,3 -1.2,3.5 -0.5,4 0.3,4.5 1.3,5.5 1.1,3 1.4,3 4.3,7.5 5.2,7.6 3.5,4 2,1.9 1.5,1 1.8,1 1.7,0.6 2,0.3 1.5,-0.1 2,-0.6 2,-1.2 1.7,-1.5 1.8,-2.2 0.3,-10.3 0.1,-12.5 0,-18 -0.4,-10 -4,-2.8 -2,-1 -2,-0.7 -2,-0.3 -2,-0.2 -2,0.1z"/>
<path fill="#1eff00" fill-rule="evenodd" d="M544,19l0,166 -79,0 0,-166zM507.5,82.5l-2.5,0.6 -2.5,0.9 -3,1.4 -2.5,1.4 -2.5,1.7 -2.5,2 -2.1,2 -2.2,2.5 -1.4,2 -1.5,2.5 -1,2 -0.8,2.5 -0.6,2.5 -0.3,2.5 -0.1,2.5 0.2,2.5 0.5,3 0.9,3 1.3,3 1.8,3.5 2.4,4 3.7,5.5 5.4,7.5 3.1,4 3.7,3.9 2,1.5 2,1.1 2,0.8 2,0.5 2,0.3 2,-0.1 2,-0.5 1.5,-0.6 1.5,-0.9 1.5,-1.2 0.5,-12 1.5,-2.1 1.4,-3.2 1.1,-3.5 0.6,-3.5 0.4,-6 -0.4,-6 -0.7,-4 -1,-3.5 -1.4,-2.9 -1.5,-2.1 -0.5,-17.1 -3.5,-2.2 -2,-0.9 -2,-0.6 -4,-0.6z"/>
<path fill="#5aff00" fill-rule="evenodd" d="M544,19l0,166 -79,0 0,-166zM508.4,75l-3.4,0.6 -3.5,1.1 -4,1.6 -3.5,1.8 -3.5,2.2 -3.5,2.5 -3,2.7 -2.4,2.5 -2.1,2.6 -1.8,2.9 -1.6,3 -1.3,3.5 -0.7,3 -0.5,3.5 -0.1,3.5 0.3,3 0.7,3.5 1.1,3.5 1.6,3.5 2.1,3.5 4.4,6 11.3,14 3.2,3.5 2.3,2 2.5,1.8 2.5,1.4 3.1,1.3 2.9,0.9 3,0.6 3,0.3 2.5,-0.2 3.5,-0.9 0.5,-7.1 2.4,-2.1 2.1,-3 2,-4.2 1.6,-4.8 1.4,-6 0.8,-6.5 0.1,-7 -0.6,-7 -1.4,-7.5 -1.1,-3.5 -1.2,-3 -1.2,-2.5 -1.6,-2.5 -1.8,-2 -1.5,-1.2 -0.5,-11.6 -3.5,-1.8 -4,-1.2 -3.5,-0.4z"/>
<path fill="#96ff00" fill-rule="evenodd" d="M544,19l0,166 -60.2,0 -1.2,-2 -2.1,-2.1 -2.5,-1.7 -3,-1.3 -3,-0.6 -2.5,0 -2.5,0.7 -2,1 0,-47.7 2,3.2 2,2.8 2.3,2.7 2.9,3 3.8,3.5 4.3,3.5 3.4,2.5 3.1,2 3.6,2 5.3,2.5 5.3,2.2 5.5,2 4.5,1.3 4,1 3.5,0.5 3,0.1 0.5,-4.9 2,-0.7 1.5,-0.9 1.5,-1.2 1.6,-1.9 1.4,-2.1 1.6,-2.9 3.5,-8 2.2,-6 1.4,-5.5 0.8,-6 0.3,-6 -0.3,-7.5 -1,-8.5 -1.6,-8 -2.1,-7 -2.6,-6 -1.6,-3 -1.6,-2.3 -1.8,-2.2 -1.7,-1.6 -1.5,-1.1 -2,-1 -0.5,-7 -1.5,-0.6 -3,-0.9 -3.5,-0.7 -3.5,-0.2 -3.5,0.2 -4,0.7 -4,1 -4.5,1.6 -4.5,1.9 -4,1.9 -4.5,2.5 -4,2.7 -3.5,2.8 -3,2.8 -2.7,3 -2.6,3.5 -2.2,3.5 0,-71.5z"/>
<path fill="#d2ff00" fill-rule="evenodd" d="M544,150.7l0,34.3 -20.1,0 -0.2,-10 0.3,-6.6 2,-0.3 1.5,-0.6 2,-1.1 1.7,-1.4 3.3,-3.5 6,-8 1.5,-1.5zM487.5,163l4.5,0 5.5,0.9 6,1.7 6.3,2.4 4,2 2.6,2 0.9,1 0.4,1 0.1,1 -0.3,1 -0.6,1 -1,1 -2.4,1.7 -3.5,1.6 -4.5,1.5 -4,0.7 -3.5,0.2 -3,-0.4 -3,-1 -2,-1.1 -2.5,-1.6 -6.4,-5.1 -3,-3 -1,-2 0,-1 0.3,-1 0.7,-1 1.4,-1.2 1.5,-0.8 2,-0.7 2,-0.5z"/>
<path fill="#fff000" fill-rule="evenodd" d="M542.5,163.4l1.5,-0.1 0,21.7 -14.3,0 -0.5,-3.5 -0.1,-2.5 0.6,-2.5 0.9,-2 2.5,-3.5 3.9,-4 3,-2.4zM494.5,169.5l1.5,-0.1 2,0.2 3.2,0.9 0.9,0.5 1.3,1 0.5,1 -0.1,1 -0.3,0.5 -1,0.8 -2.5,0.9 -3,0 -1.5,-0.2 -1.5,-0.5 -1,-0.5 -1.2,-1 -0.8,-1 -0.2,-1 0.4,-1 0.4,-0.5 1.4,-0.7z"/>
<path fill="#ffb400" fill-rule="evenodd" d="M541,170.5l1.5,-0.3 1.5,0 0,14.8 -10.9,0 -0.1,-2.5 0.2,-2 0.5,-2 0.9,-2 1.2,-2 1.7,-1.8 2,-1.5z"/>
<path fill="#ff7800" fill-rule="evenodd" d="M541.5,174.9l1,-0.2 1.5,0.1 0,10.2 -8.1,0 0,-2 0.2,-1.5 0.5,-1.5 0.7,-1.5 1.7,-2.2 1.1,-0.8z"/>
<path fill="#ff3c00" fill-rule="evenodd" d="M542.5,178.9l1.5,0.1 0,6 -5.1,0 0.1,-2 0.7,-2 1.3,-1.4z"/></g>
<g clip-path="url(#c3L)"><rect x="146" y="209" width="80" height="167" fill="#0000ff"/>
<path fill="#004eff" fill-rule="evenodd" d="M226,209l0,167 -80,0 0,-167zM217.5,225.4l-0.5,2.3 -0.7,6.8 -0.8,11.3 -0.5,12.2 0,40 0.1,15.5 0.4,8.6 0.5,3.8 0.5,2 0.5,1.1 0.5,0.6 0.5,0.2 0.5,-0.2 0.5,-0.6 0.7,-2 0.5,-3 0.4,-5 0.2,-15 0,-46 -0.6,-15 -0.7,-10.7 -0.5,-4.3 -0.5,-2.5 -0.5,-0.9z"/>
<path fill="#009dff" fill-rule="evenodd" d="M214.2,209l-1.5,49 0,42.5 0.2,16 0.5,8.5 0.9,6 0.7,2.3 1,1.9 1,1.1 1,0.3 1,-0.3 0.7,-0.8 0.8,-1.4 0.5,-1.6 0.6,-4 0.4,-6.5 0.2,-64 -0.9,-49 4.7,0 0,167 -80,0 0,-167z"/>
<path fill="#00ebff" fill-rule="evenodd" d="M210.5,209l-1.4,49 0.1,41 0.5,18 0.4,6 0.6,5 0.9,4.5 0.8,3 1.2,3 1.4,2.2 1.5,1.4 1.5,0.5 1.5,-0.5 1,-1 0.5,-0.9 1,-3.7 0.5,-4.5 0.3,-11 0.1,-21.5 0,-41.5 -0.3,-49 3.4,0 0,167 -80,0 0,-167z"/>
<path fill="#00ffc4" fill-rule="evenodd" d="M205,209l0,3 -2.9,46 0.2,33.5 0.4,12 0.6,9.5 0.9,7.5 1.1,6.5 1.5,6 1.9,5.5 2.4,5 2.4,3.6 1.3,1.4 1.2,0.9 1,0.4 1,0.2 1,-0.1 1,-0.6 1,-1.2 0.5,-1.1 0.5,-2 0.5,-3.3 0.5,-6.5 0.3,-10.7 0.1,-16.5 -0.2,-99 2.8,0 0,167 -80,0 0,-167z"/>
<path fill="#00ff76" fill-rule="evenodd" d="M197.2,209l0,3 -4.7,46 0.2,16.5 0.4,12 0.4,5 0.2,0.5 1.6,14 1.6,10 2.1,9.5 2.4,8.5 2.8,7.5 1.8,4 2,3.8 4.5,7.2 2,2.5 1.5,1.5 1.5,0.8 1,0.2 1,-0.4 1,-1.1 1,-2.6 1,-6.2 0.5,-6.2 0.5,-12.2 0.1,-12.3 0,-111.5 2.4,0 0,167 -80,0 0,-167z"/>
<path fill="#00ff27" fill-rule="evenodd" d="M182.5,209l-0.1,55 0.2,27.5 -0.6,0.4 -2.2,0.1 2.2,7.1 2,5.7 11.7,30.7 3.6,8.5 5.6,12 1.7,4 1.4,4 1.7,6.5 1,1 1.1,0.5 2.5,0.5 4.2,0.2 2.5,-0.2 0.9,-0.5 0.4,-1 0.1,-2 1.1,-25.2 0.3,-17.3 0,-117.5 2.2,0 0,167 -80,0 0,-167z"/>
<path fill="#27ff00" fill-rule="evenodd" d="M181.5,209l0.1,82.5 -1.6,0.4 -6,0.1 1.5,6.8 3.5,14 2,6.7 2,5.8 2.5,6.1 2.5,5.4 8.5,16.2 2.2,4.5 1.9,5.5 1.7,7.5 0.9,1 0.9,0.5 1.7,0.5 4.7,0.6 8,0.4 2.5,-0.1 1.5,-0.4 0.5,-0.9 0.1,-1.1 0.9,-45.5 0,-116.5 2,0 0,167 -80,0 0,-167z"/>
<path fill="#76ff00" fill-rule="evenodd" d="M181,209l0.1,82.5 -1.1,0.3 -8.5,0.2 5,23.9 3.5,14.5 3,10.6 2.5,7 4.6,10 1.2,3 1.1,3.5 0.9,5 0.7,1.5 0.6,0.5 1.2,0.5 2.1,0.5 3.5,0.5 5.9,0.5 11.2,0.3 3,0 1.2,-0.3 0.5,-0.5 0.3,-1.5 0.7,-48 0,-114.5 1.8,0 0,167 -80,0 0,-167z"/>
<path fill="#c4ff00" fill-rule="evenodd" d="M180.8,209l0,82.5 -0.8,0.3 -10.1,0.2 4.6,23.4 4.5,20.9 2.5,10.3 4.2,14.9 1.8,8.5 0.6,1.5 0.6,0.5 1.1,0.5 2.8,0.5 17.4,1 8.5,0.1 3.5,-0.1 1,-0.3 0.6,-0.7 0.2,-1.5 0.6,-49 0,-113.5 1.6,0 0,167 -80,0 0,-167z"/>
<path fill="#ffeb00" fill-rule="evenodd" d="M180.5,209l0,82.5 -0.5,0.2 -8,0.1 -3.2,0.2 4.2,22.4 4.5,22.3 5.7,24.8 1.7,8.5 0.5,1.5 0.9,1 1.2,0.5 3.5,0.5 12.2,0.5 13.8,0.3 5,-0.1 1,-0.2 0.5,-0.3 0.4,-1.2 0.1,-1.5 0.5,-38.2 0.9,-4.3 0.6,-5.3 0,52.8 -80,0 0,-167zM225.5,209l0.5,0 0,18z"/>
<path fill="#ff9d00" fill-rule="evenodd" d="M180.3,209l0,82.5 -10.3,0.2 -2.1,0.3 0.1,1 0.4,0.5 0.1,2.2 0.4,0.8 0.1,1.9 0.4,1.1 0.2,2 0.3,0.5 0.1,1.8 0.4,1.2 0.2,2 0.3,0.5 0.1,1.6 0.4,1.4 0.1,1.3 4.5,23.2 7.8,36.5 0.6,1 0.8,0.5 1.7,0.5 3.1,0.3 26.5,0.7 5,-0.1 2,-0.4 0.6,-1 0.1,-1.5 0.3,-26.3 1.5,-2.4 0,33.2 -80,0 0,-167z"/>
<path fill="#ff4e00" fill-rule="evenodd" d="M180.1,209l0,82.5 -11.1,0.1 -1,0.1 -0.4,0.3 0.1,1 0.4,0.5 0.1,2.5 0.4,0.5 0.1,2.5 0.4,0.5 0.1,2 0.4,0.5 0.1,2.5 0.4,0.5 0.1,2 0.4,0.5 0.1,2.5 0.4,0.5 0.1,2.5 0.4,0.5 0.1,2 0.4,0.5 0.1,2.5 0.5,0.5 0,2 0.5,0.5 0,2.5 0.5,0.5 0,2.5 0.5,0.5 0,2 0.5,0.5 0.1,2.5 0.4,0.5 0.1,2.5 0.4,0.5 0.1,2 0.4,0.5 0.1,2.5 0.4,0.5 0.1,2 0.4,0.5 0.2,2.5 0.3,0.5 0.2,2 0.9,3.5 3.4,17.5 0.6,2 0.9,1 1.2,0.5 3.5,0.5 22.6,0.5 9.5,0.1 2.5,-0.2 0.5,-0.2 0.5,-0.5 0.3,-1.2 0.2,-15.5 1.5,-1.9 0,20.9 -80,0 0,-167z"/>
<path fill="#ff0000" fill-rule="evenodd" d="M224.5,372.4l1.5,-0.2 0,3.8 -43.5,0 0,-1 -0.5,-0.5 0.2,-1 0.3,-0.6 1,0.6 1.5,0.4 4,0.3 20,0.4 13,0 1.2,-0.1 0.8,-0.5z"/></g>
<g clip-path="url(#c3R)"><rect x="252" y="209" width="78" height="167" fill="#0000ff"/>
<path fill="#004eff" fill-rule="evenodd" d="M330,209l0,167 -78,0 0,-167zM259.5,226.3l-0.5,3.2 -0.5,5.2 -1,18.9 -0.1,4.4 0,33 0.1,21.5 0.3,9 0.7,5.5 0.5,1.6 0.5,0.8 0.5,0.4 0.5,-0.1 0.5,-0.4 0.5,-0.9 0.5,-1.6 0.6,-3.3 0.4,-5.5 0.2,-15 0,-45 -0.7,-15.8 -0.9,-11.2 -0.6,-4.5 -0.5,-1.6 -0.5,-0.1z"/>
<path fill="#009dff" fill-rule="evenodd" d="M256.9,209l-0.9,49 0.1,62 0.4,8 0.6,4 0.6,2 0.7,1.5 0.6,0.6 1,0.5 1,-0.2 1,-0.9 1,-1.8 0.8,-2.2 1,-6 0.5,-8.5 0.2,-16 0,-43 -1.5,-49 66,0 0,167 -78,0 0,-167z"/>
<path fill="#00ebff" fill-rule="evenodd" d="M255.6,209l-0.3,49 0,55.5 0.3,16 0.4,5.6 0.5,2.9 0.5,1.7 0.5,1.1 1,1.2 1.5,0.6 1.5,-0.4 1.5,-1.2 1.5,-2.4 1.3,-3.1 0.9,-3.5 0.8,-4 0.6,-5.5 0.4,-6 0.5,-18.5 0.1,-40 -1.4,-49 62.3,0 0,167 -78,0 0,-167z"/>
<path fill="#00ffc4" fill-rule="evenodd" d="M255,209l-0.1,102.5 0.1,16 0.2,7.5 0.4,5.5 0.4,3.4 0.5,2.4 0.5,1.4 1,1.5 1,0.6 1,0.2 1,-0.1 1,-0.4 1,-0.7 1.5,-1.4 2.5,-3.7 2.3,-4.7 1.9,-5.5 1.6,-6 1.2,-6.5 0.9,-7.5 0.6,-9.5 0.4,-12.5 0.2,-33.5 -2.9,-46 0,-3 56.8,0 0,167 -78,0 0,-167z"/>
<path fill="#00ff76" fill-rule="evenodd" d="M254.7,209l-0.2,105.5 0.2,14.5 0.3,12.4 0.5,7.7 1,7.5 0.5,1.8 1,2.1 1,0.8 1,0.2 1,-0.3 1.5,-1 1.5,-1.5 2,-2.6 4.5,-7.3 3.7,-7.8 2.7,-7.5 2.4,-8.5 2.1,-9.5 1.7,-10.5 1.4,-13 0.2,-0.5 0.4,-5.5 0.4,-12 0.2,-16 -4.7,-46 0,-3 49,0 0,167 -78,0 0,-167z"/>
<path fill="#00ff27" fill-rule="evenodd" d="M254.4,209l0,113.5 0.1,14.1 0.5,14.9 1,20 0.3,0.5 0.7,0.5 2.5,0.2 4.4,-0.2 2.5,-0.5 1.1,-0.5 1,-1 1.7,-6.5 1.4,-4 1.7,-4 5.4,-11.5 4,-9.5 11.8,-31 2,-5.8 1.9,-6.2 -1.9,-0.1 -0.9,-0.4 0.2,-31.5 -0.1,-51 34.3,0 0,167 -78,0 0,-167z"/>
<path fill="#27ff00" fill-rule="evenodd" d="M254.2,209l0,115 0.8,46.5 0.2,1.5 0.5,1 1.3,0.4 2.5,0.1 8,-0.4 4.9,-0.6 1.7,-0.5 0.9,-0.5 0.9,-1 1.7,-7.5 1.9,-5.5 2,-4.2 8.9,-16.8 2.6,-5.7 2,-5 2,-5.7 2,-6.6 3.5,-13.9 1.7,-7.6 -6.2,-0.1 -1.4,-0.4 0.1,-82.5 33.3,0 0,167 -78,0 0,-167z"/>
<path fill="#76ff00" fill-rule="evenodd" d="M254,209l0,109.5 0.7,52.5 0.3,2 0.5,0.5 1.5,0.3 2.5,0 11.4,-0.3 5.9,-0.5 3.5,-0.5 2.1,-0.5 1.2,-0.5 0.6,-0.5 0.7,-1.5 0.9,-5 1.3,-4 5.4,-12 2.5,-6.9 3,-10.5 3.5,-14.3 5.2,-24.8 -8.7,-0.2 -0.9,-0.3 0,-82.5 32.9,0 0,167 -78,0 0,-167z"/>
<path fill="#c4ff00" fill-rule="evenodd" d="M253.7,209l0,110 0.7,52.5 0.2,1.5 0.3,0.5 0.6,0.4 1,0.1 3,0.1 8.5,-0.1 17.6,-1 2.8,-0.5 1.1,-0.5 0.5,-0.4 0.7,-1.6 2,-9.5 3.8,-13.2 2.5,-10.1 4.5,-20.8 4.8,-24.4 -9.8,-0.2 -1.1,-0.3 0.1,-82.5 32.5,0 0,167 -78,0 0,-167z"/>
<path fill="#ffeb00" fill-rule="evenodd" d="M252.7,209l0,3 -0.7,21.4 0,-24.4zM330,209l0,167 -78,0 0,-55.1 0.6,6.1 0.9,5 0.5,19.7 0.2,19.3 0.3,2.5 0.5,0.4 0.5,0.2 4,0.2 15.5,-0.3 12.2,-0.5 3.5,-0.5 1.2,-0.5 0.9,-1 0.4,-1 2,-10 3.3,-13.7 2.5,-11.5 4.5,-22.4 3.9,-20.9 -2.9,-0.2 -8,-0.1 -0.9,-0.2 0.1,-82.5z"/>
<path fill="#ff9d00" fill-rule="evenodd" d="M330,209l0,167 -78,0 0,-33.5 1.5,2.4 0.5,26.6 0.2,1.5 0.5,1 1.8,0.4 5.5,0.1 21.7,-0.5 5.3,-0.3 2.3,-0.2 1.7,-0.5 1,-0.7 0.6,-1.3 8.4,-40 2.5,-12.9 0.1,-1.1 0.2,-0.5 0.3,-2 0.4,-1.7 0.1,-1.3 0.2,-0.5 0.3,-2 0.4,-1.5 0.1,-1.5 0.4,-1.1 0.1,-1.9 0.3,-0.5 0.2,-2 0.4,-1 0.1,-2 0.4,-0.5 0.1,-2 0.4,-0.9 0.1,-2.1 -2.1,-0.3 -10.2,-0.2 0.1,-82.5z"/>
<path fill="#ff4e00" fill-rule="evenodd" d="M330,209l0,167 -78,0 0,-21.1 1.5,1.9 0.3,15.2 0.3,1.5 0.3,0.5 0.6,0.3 2,0.3 8.5,-0.1 24.3,-0.5 3.5,-0.5 1.2,-0.5 0.9,-1 0.4,-1 3.4,-17.5 0.9,-3.5 0.2,-2 0.3,-0.5 0.2,-2 0.3,-0.5 0.2,-2.5 0.4,-0.5 0.1,-2.5 0.4,-0.5 0.1,-2 0.4,-0.5 0.1,-2.5 0.4,-0.5 0.1,-2 0.4,-0.5 0.1,-2.5 0.4,-0.5 0.1,-2.5 0.4,-0.5 0.1,-2 0.4,-0.5 0.1,-2.5 0.4,-0.5 0.1,-2.5 0.5,-0.5 0,-2 0.5,-0.5 0,-2.5 0.5,-0.5 0,-2 0.5,-0.5 0,-2.5 0.5,-0.5 0.1,-2.5 0.4,-0.5 0.1,-2 0.4,-0.5 0.1,-2.5 0.4,-0.5 0.1,-2 0.4,-0.5 0.1,-2 0,-0.5 -0.4,-0.4 -11.9,-0.1 0.1,-82.5z"/>
<path fill="#ff0000" fill-rule="evenodd" d="M324,307.5l3,-0.5 3,0.2 0,68.8 -4.9,0 -0.4,-1 -1.1,-4 -0.6,-4.5 -0.3,-5 -0.1,-10.5 -0.6,-4.5 -0.7,-2 -1.2,-2 -4.9,-5.5 -2,-3 -1.4,-3.5 -0.7,-4 0,-3.5 0.6,-3 1,-3 1.4,-2.5 2,-2.5 2.4,-2 2.5,-1.5zM253.5,372.4l0.4,1.1 0.6,0.8 0.5,0.2 2,0.2 32,-0.5 3.5,-0.2 1.5,-0.3 1,-0.4 1,-0.7 0.2,0.4 -0.4,0.5 0.2,2 -0.5,0.5 -43.5,0 0,-3.9z"/></g>
<g clip-path="url(#c4L)"><rect x="360" y="209" width="79" height="167" fill="#0000ff"/>
<path fill="#004eff" fill-rule="evenodd" d="M422.6,209l0,3 -4,78 1.9,33.8 0.5,6.2 1,5.3 1.5,3.8 3.8,6.4 1.5,4 0.9,3.5 0.5,2.5 1.5,14 0.4,1 0.3,0.5 0.9,0.5 0.7,0.1 0.6,-0.1 0.4,-0.5 0.1,-0.5 0.3,-7 0.3,-33 -0.1,-121.5 3.4,0 0,167 -79,0 0,-167z"/>
<path fill="#009dff" fill-rule="evenodd" d="M418,209l-0.2,8 -3.8,73 1.5,27.3 1,13.7 0.5,3.2 1,3.7 3.7,8.1 1.5,5 1.1,6.5 1.2,10.6 0.6,2.4 1.1,1 1.3,0.5 3,0.6 2.5,0.2 1,-0.1 0.5,-0.2 0.5,-0.9 0.1,-2.1 0.1,-160.5 2.8,0 0,167 -79,0 0,-167z"/>
<path fill="#00ebff" fill-rule="evenodd" d="M414.8,209l-0.3,8.8 -3.7,72.2 1.5,27.5 0.9,13.5 0.5,3.5 1,4 2.8,7 1.5,5.8 1,7 0.9,9.7 0.5,2.5 0.8,1 0.9,0.5 1.6,0.5 4.1,0.5 5.2,0.3 1.5,-0.2 0.5,-0.3 0.3,-0.8 0.2,-2 0.1,-161 2.4,0 0,167 -79,0 0,-167z"/>
<path fill="#00ffc4" fill-rule="evenodd" d="M410.6,209l-0.1,4.9 -3.9,76.1 1.7,31 1,12.5 0.9,5 2.3,7.7 1,5 1,8.7 0.7,9.1 0.4,1.5 0.9,1 1.2,0.5 2.2,0.5 5.6,0.7 8.5,0.4 1.5,-0.1 0.5,-0.2 0.5,-0.6 0.2,-1.7 0.1,-162 2.2,0 0,167 -79,0 0,-167z"/>
<path fill="#00ff76" fill-rule="evenodd" d="M404.3,209l-0.3,10.7 -3.6,70.3 1.3,25.5 1,15.5 1.1,8.5 2.5,15 1.6,15 0.3,1 1.1,1 1.4,0.5 2.9,0.5 11,1 9.4,0.3 1.5,-0.1 0.7,-0.2 0.6,-1 0.1,-1.5 0.1,-162 2,0 0,167 -79,0 0,-167z"/>
<path fill="#00ff27" fill-rule="evenodd" d="M395.8,209l-0.4,82.5 -0.9,0.3 -1.3,0.2 0,49 0.3,12.2 2,2.6 2,3.3 0.5,1.2 0.9,3.2 1.2,6 0.4,1 1.4,1 2.6,0.7 6.6,0.8 8.5,0.5 14.4,0.5 1.5,-0.1 1.1,-0.4 0.5,-1.5 0.1,-1.5 0.1,-161.5 1.7,0 0,167 -79,0 0,-167z"/>
<path fill="#27ff00" fill-rule="evenodd" d="M394.7,209l-0.1,82.5 -1.6,0.4 -7.5,0.1 0,84 -25.5,0 0,-167zM393.5,371.8l10.4,1.2 22.1,1 8,0.1 2,-0.1 0.5,-0.2 0.6,-0.8 0.4,-1.4 1.5,0.1 0,4.3 -46,0 0.1,-2.5z"/>
<path fill="#76ff00" fill-rule="evenodd" d="M394.2,209l0,82.5 -1.2,0.4 -9.5,0.1 0,84 -23.5,0 0,-167zM393.5,372.9l12.7,0.6 27.8,0.7 2.4,-0.2 1.1,-1.2 1.5,0.1 0,3.1 -46,0 0.2,-2z"/>
<path fill="#c4ff00" fill-rule="evenodd" d="M393.9,209l0,82.5 -0.9,0.3 -10.6,0.2 0,84 -22.4,0 0,-167zM393.5,373.3l40.5,1.1 2.5,-0.3 1,-0.8 1.5,0 0,2.7 -46,0 0.1,-1.5z"/>
<path fill="#ffeb00" fill-rule="evenodd" d="M393.7,209l-0.1,82.5 -0.6,0.2 -8.5,0.1 -2.9,0.2 0,84 -1.1,0 0.2,-10.5 -0.2,-18.6 -0.6,1.1 -0.5,2.5 -0.4,3.5 -0.1,4.5 0.3,11.5 0.4,3.5 0.6,2.5 -20.2,0 0,-167zM393.5,373.6l40.5,0.9 2,-0.2 1.5,-0.7 1.5,0 0,2.4 -46,0 0.2,-1.5z"/>
<path fill="#ff9d00" fill-rule="evenodd" d="M393.4,209l0,82.5 -10.4,0.2 -2,0.3 0,44 -1,0.7 -0.6,0.8 -0.8,1.5 -0.6,1.9 -0.8,4.6 -0.5,5.5 0,5 0.4,6 0.6,8.5 0.6,5.5 -18.3,0 0,-167zM393.5,373.8l40.5,0.7 2,0 1.5,-0.7 1.5,0 0,2.2 -46,0z"/>
<path fill="#ff4e00" fill-rule="evenodd" d="M393.2,209l-0.1,82.5 -11.1,0.1 -1,0.1 -0.3,0.3 -0.2,32.8 -1,0.5 -1.4,1.7 -1,2 -0.9,2.5 -0.9,3.5 -0.6,3.5 -0.8,8.5 -0.2,7 0.4,6.5 0.7,6.5 1.3,9 -16.1,0 0,-167zM393.5,374l40.5,0.6 2.3,-0.1 1.2,-0.5 1.5,0 0,2 -46,0z"/>
<path fill="#ff0000" fill-rule="evenodd" d="M361.5,304.6l0.5,0.4 0.6,2 0.5,4 0.5,6 0.5,15 -0.2,22 0.5,4.5 1.5,6.5 0.5,3.5 0,4 -0.4,3.5 -6,0 0,-64.3 0.6,-4.7 0.4,-1.5zM393.5,374.1l40.5,0.6 2.5,-0.2 1,-0.4 1.5,0 0,1.9 -45.9,0z"/></g>
<g clip-path="url(#c4R)"><rect x="465" y="209" width="79" height="167" fill="#0000ff"/>
<path fill="#004eff" fill-rule="evenodd" d="M468.8,209l-0.1,120.5 0.3,34 0.3,7 0.2,0.7 0.5,0.4 0.5,0 0.6,-0.1 0.9,-0.5 0.3,-0.5 0.4,-1 1.5,-14 0.6,-3 1,-3.5 1.9,-4.5 3.3,-5.5 1.5,-4 0.5,-2.3 0.5,-3.7 0.5,-6.7 1.8,-32.3 -4,-78 0,-3 62.2,0 0,167 -79,0 0,-167z"/>
<path fill="#009dff" fill-rule="evenodd" d="M468.2,209l0.1,160.5 0.2,2.5 0.5,0.6 1.5,0.2 3,-0.3 2.4,-0.5 1.3,-0.5 1.1,-1 0.7,-3 1.2,-11 1,-5.5 1.5,-5 2.8,-5.9 1,-2.5 1,-4 0.5,-3.6 1,-14.5 1.4,-25.5 -4,-78 0,-3 57.6,0 0,167 -79,0 0,-167z"/>
<path fill="#00ebff" fill-rule="evenodd" d="M467.9,209l0.1,162 0,1 0.5,1 1,0.3 1,0 5.1,-0.3 4.1,-0.5 1.6,-0.5 0.9,-0.5 0.8,-1 0.3,-1.5 1.2,-11.6 1,-6.6 1.5,-5.6 2.8,-7.2 0.9,-4 0.5,-3.5 0.6,-8 1.8,-32.5 -3.6,-70.2 -0.4,-10.8 54.4,0 0,167 -79,0 0,-167z"/>
<path fill="#00ffc4" fill-rule="evenodd" d="M467.6,209l0.1,162 0.4,2 0.7,0.5 1.7,0.1 8.5,-0.4 5.5,-0.7 2.2,-0.5 1.2,-0.5 0.9,-1 0.5,-2 0.7,-9.7 1,-8.2 1,-4.8 2.2,-7.3 1,-5.5 1,-13.5 1.6,-29.5 -3.8,-74.1 -0.2,-6.9 50.2,0 0,167 -79,0 0,-167z"/>
<path fill="#00ff76" fill-rule="evenodd" d="M467.4,209l0.1,162 0.1,1.5 0.4,0.8 1,0.4 1.5,0.1 9.3,-0.3 11,-1 2.9,-0.5 1.4,-0.5 1.1,-1 0.3,-1 1.6,-15 2.6,-15.5 1.1,-9 1,-16.5 1.2,-23.5 -4,-78 0,-3 44,0 0,167 -79,0 0,-167z"/>
<path fill="#00ff27" fill-rule="evenodd" d="M467.1,209l0.1,162 0.2,1.5 0.5,1 1.1,0.5 1.5,0 14.3,-0.5 8.5,-0.5 6.7,-0.8 2.5,-0.7 1.4,-1 0.4,-1 1.1,-5.5 1.1,-4 2,-3.6 2.5,-3.3 0.3,-12.1 0,-49 -1.3,-0.1 -1,-0.4 -0.4,-82.5 35.4,0 0,167 -79,0 0,-167z"/>
<path fill="#27ff00" fill-rule="evenodd" d="M544,209l0,167 -25.1,0 0,-84 -7.4,-0.1 -1.7,-0.4 -0.1,-82.5zM467,371.5l0.3,1.5 0.7,0.8 0.5,0.2 2,0.1 8,-0.1 22,-1 10.5,-1.2 0.4,1.7 0.1,2.5 -46.5,0 0,-4.3z"/>
<path fill="#76ff00" fill-rule="evenodd" d="M544,209l0,167 -23.1,0 0,-84 -9.4,-0.1 -1.3,-0.4 0,-82.5zM467,372.8l0.4,0.7 0.6,0.5 2.5,0.2 27.7,-0.7 12.8,-0.6 0.3,1.1 0.2,2 -46.5,0 0,-3.1z"/>
<path fill="#c4ff00" fill-rule="evenodd" d="M544,209l0,167 -22,0 0,-84 -10.5,-0.2 -0.9,-0.3 -0.1,-82.5zM467,373.3l1,0.8 2.5,0.3 40.5,-1.1 0.4,1.2 0.1,1.5 -46.5,0 0,-2.7z"/>
<path fill="#ffeb00" fill-rule="evenodd" d="M544,209l0,167 -19.8,0 0.6,-2.5 0.4,-3.5 0.3,-11 -0.4,-8 -0.6,-2.9 -0.5,-1.1 -0.2,18.5 0.2,10.5 -1.2,0 0,-84 -2.8,-0.2 -8.5,-0.1 -0.7,-0.2 -0.1,-82.5zM467,373.6l1,0.6 2.5,0.3 40.5,-0.9 0.3,0.9 0.2,1.5 -46.5,0 0,-2.4z"/>
<path fill="#ff9d00" fill-rule="evenodd" d="M511,209l33,0 0,167 -17.9,0 0.6,-5.5 0.6,-8.5 0.4,-6 0,-5 -0.5,-5.5 -0.8,-4.5 -0.6,-2 -0.8,-1.6 -1.5,-1.4 0,-44 -2,-0.3 -10.5,-0.2zM467,373.8l1.5,0.7 2,0 40.5,-0.7 0.5,2.2 -46.5,0 0,-2.2z"/>
<path fill="#ff4e00" fill-rule="evenodd" d="M544,209l0,167 -15.7,0 1.4,-9.5 0.6,-6 0.4,-7 -0.2,-6.5 -0.7,-8 -0.6,-3.5 -0.9,-3.5 -0.8,-2.5 -1,-2.1 -1,-1.5 -1.5,-1 -0.2,-32.9 -0.3,-0.3 -1,-0.1 -11.2,-0.1 0,-82.5zM467,374l1.5,0.5 2,0.1 40.5,-0.6 0.5,2 -46.5,0 0,-2z"/>
<path fill="#ff0000" fill-rule="evenodd" d="M542.5,264.4l1.5,0 0,111.6 -5.6,0 -0.5,-4 0.2,-4 0.5,-3.5 1.4,-5.9 0.5,-5 -0.2,-23.6 0.9,-24.5 -0.2,-3.5 -0.6,-3 -2.6,-8 -0.7,-3 -0.5,-4 -0.1,-4.5 0.6,-5.5 1.3,-4.5 1,-2 1,-1.5 1.1,-1.1zM467,374.1l1,0.4 2.5,0.2 40.5,-0.6 0.4,1.9 -46.4,0 0,-1.9z"/></g>
<path d="M148,90.2 167.7,90.2 167.7,101 180.3,101" fill="none" stroke="#4a4a30" stroke-width="0.6" stroke-opacity="0.75"/>
<path d="M180.3,101 L180.3,20.6" fill="none" stroke="#4a4a30" stroke-width="0.6" stroke-opacity="0.7"/>
<path d="M224.4,20.6 L224.4,183.6" fill="none" stroke="#4a4a30" stroke-width="0.6" stroke-opacity="0.6"/>
<path d="M327.7,90.2 310.7,90.2 310.7,101 298.2,101" fill="none" stroke="#4a4a30" stroke-width="0.6" stroke-opacity="0.75"/>
<path d="M298.2,101 L298.2,20.6" fill="none" stroke="#4a4a30" stroke-width="0.6" stroke-opacity="0.7"/>
<path d="M253.8,20.6 L253.8,183.6" fill="none" stroke="#4a4a30" stroke-width="0.6" stroke-opacity="0.6"/>
<path d="M361.6,90.4 380.8,90.4 380.8,101.6 393.2,101.6" fill="none" stroke="#4a4a30" stroke-width="0.6" stroke-opacity="0.75"/>
<path d="M393.2,101.6 L393.2,20.3" fill="none" stroke="#4a4a30" stroke-width="0.6" stroke-opacity="0.7"/>
<path d="M437.4,20.3 L437.4,183.6" fill="none" stroke="#4a4a30" stroke-width="0.6" stroke-opacity="0.6"/>
<path d="M541.7,90.4 523.6,90.4 523.6,101.6 511,101.6" fill="none" stroke="#4a4a30" stroke-width="0.6" stroke-opacity="0.75"/>
<path d="M511,101.6 L511,20.3" fill="none" stroke="#4a4a30" stroke-width="0.6" stroke-opacity="0.7"/>
<path d="M467,20.3 L467,183.6" fill="none" stroke="#4a4a30" stroke-width="0.6" stroke-opacity="0.6"/>
<path d="M147.7,280.6 167.7,280.6 167.7,291.7 180.1,291.7" fill="none" stroke="#4a4a30" stroke-width="0.6" stroke-opacity="0.75"/>
<path d="M180.1,291.7 L180.1,210.9" fill="none" stroke="#b86a10" stroke-width="0.6" stroke-opacity="0.7"/>
<path d="M224.4,210.9 L224.4,374.2" fill="none" stroke="#b86a10" stroke-width="0.6" stroke-opacity="0.6"/>
<path d="M327.6,280.6 310.7,280.6 310.7,291.7 298,291.7" fill="none" stroke="#4a4a30" stroke-width="0.6" stroke-opacity="0.75"/>
<path d="M298,291.7 L298,210.9" fill="none" stroke="#b86a10" stroke-width="0.6" stroke-opacity="0.7"/>
<path d="M254,210.9 L254,374.2" fill="none" stroke="#b86a10" stroke-width="0.6" stroke-opacity="0.6"/>
<path d="M361.6,281 380.8,281 380.8,292 393.2,292" fill="none" stroke="#4a4a30" stroke-width="0.6" stroke-opacity="0.75"/>
<path d="M393.2,292 L393.2,210.6" fill="none" stroke="#b86a10" stroke-width="0.6" stroke-opacity="0.7"/>
<path d="M437.2,210.6 L437.2,373.8" fill="none" stroke="#b86a10" stroke-width="0.6" stroke-opacity="0.6"/>
<path d="M541.7,281 523.6,281 523.6,292 511,292" fill="none" stroke="#4a4a30" stroke-width="0.6" stroke-opacity="0.75"/>
<path d="M511,292 L511,210.6" fill="none" stroke="#b86a10" stroke-width="0.6" stroke-opacity="0.7"/>
<path d="M467,210.6 L467,373.8" fill="none" stroke="#b86a10" stroke-width="0.6" stroke-opacity="0.6"/>
<path d="M167.7,101 L182.6,183.6" fill="none" stroke="#1a1a1a" stroke-width="0.7" stroke-opacity="0.9"/>
<path d="M179.9,101 L194.8,183.6" fill="none" stroke="#1a1a1a" stroke-width="0.7" stroke-opacity="0.9"/>
<path d="M310.7,101 L296.3,183.6" fill="none" stroke="#1a1a1a" stroke-width="0.7" stroke-opacity="0.9"/>
<path d="M298.4,101 L284,183.6" fill="none" stroke="#1a1a1a" stroke-width="0.7" stroke-opacity="0.9"/>
<path d="M167.7,291.7 L182.2,374.2" fill="none" stroke="#1a1a1a" stroke-width="0.7" stroke-opacity="0.9"/>
<path d="M179.9,291.7 L194.4,374.2" fill="none" stroke="#1a1a1a" stroke-width="0.7" stroke-opacity="0.9"/>
<path d="M310.7,291.7 L296.4,374.2" fill="none" stroke="#1a1a1a" stroke-width="0.7" stroke-opacity="0.9"/>
<path d="M298.4,291.7 L284,374.2" fill="none" stroke="#1a1a1a" stroke-width="0.7" stroke-opacity="0.9"/>
<path d="M380.8,101.6 L380.8,183.6" fill="none" stroke="#1a1a1a" stroke-width="0.7" stroke-opacity="0.8"/>
<path d="M393.2,101.6 L393.2,183.6" fill="none" stroke="#1a1a1a" stroke-width="0.7" stroke-opacity="0.8"/>
<path d="M511,101.6 L511,183.6" fill="none" stroke="#1a1a1a" stroke-width="0.7" stroke-opacity="0.8"/>
<path d="M523.6,101.6 L523.6,183.6" fill="none" stroke="#1a1a1a" stroke-width="0.7" stroke-opacity="0.8"/>
<path d="M380.8,292 L380.8,373.8" fill="none" stroke="#1a1a1a" stroke-width="0.7" stroke-opacity="0.8"/>
<path d="M393.2,292 L393.2,373.8" fill="none" stroke="#1a1a1a" stroke-width="0.7" stroke-opacity="0.8"/>
<path d="M511,292 L511,373.8" fill="none" stroke="#1a1a1a" stroke-width="0.7" stroke-opacity="0.8"/>
<path d="M523.6,292 L523.6,373.8" fill="none" stroke="#1a1a1a" stroke-width="0.7" stroke-opacity="0.8"/>
<rect x="147.9" y="20.6" width="179.8" height="163.3" rx="0.8" fill="none" stroke="#2a2a2a" stroke-width="1.3"/>
<rect x="361.6" y="20.3" width="180.1" height="163.6" rx="0.8" fill="none" stroke="#2a2a2a" stroke-width="1.3"/>
<rect x="147.7" y="210.9" width="179.9" height="163.6" rx="0.8" fill="none" stroke="#2a2a2a" stroke-width="1.3"/>
<rect x="361.6" y="210.6" width="180.1" height="163.3" rx="0.8" fill="none" stroke="#2a2a2a" stroke-width="1.3"/>
</svg>
</body></html>
